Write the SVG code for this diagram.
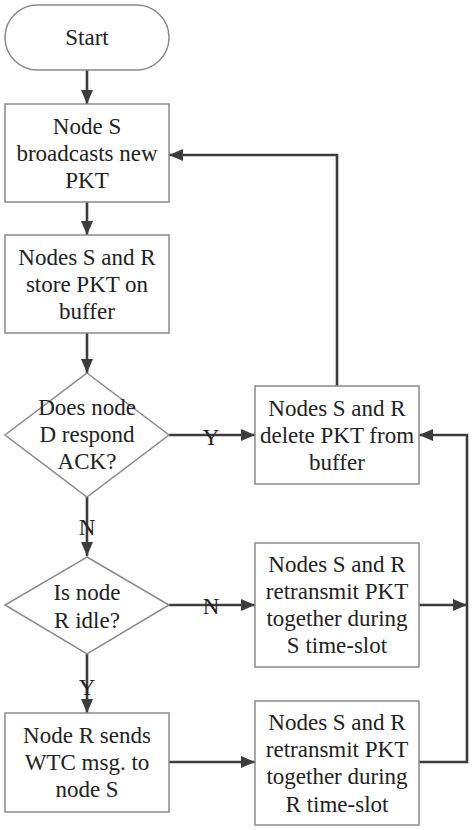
<svg xmlns="http://www.w3.org/2000/svg" width="474" height="830" viewBox="0 0 474 830">
<defs>
<marker id="ah" markerWidth="14" markerHeight="12" refX="14" refY="6" orient="auto" markerUnits="userSpaceOnUse">
<path d="M0,0 L14,6 L0,12 Z" fill="#3c3c3c"/>
</marker>
</defs>
<style>
.n{fill:#fff;stroke:#8a8a8a;stroke-width:1.5}
.t{font-size:23px;fill:#222;text-anchor:middle}
.c{fill:none;stroke:#3c3c3c;stroke-width:2.6}
</style>
<rect width="474" height="830" fill="#fff"/>
<g id="connectors" font-family="Liberation Serif, serif">
<path class="c" d="M87,70 V104" marker-end="url(#ah)"/>
<path class="c" d="M87,202 V235" marker-end="url(#ah)"/>
<path class="c" d="M87,333 V373" marker-end="url(#ah)"/>
<path class="c" d="M169,435 H255" marker-end="url(#ah)"/>
<path class="c" d="M337,386 V155 H169" marker-end="url(#ah)"/>
<path class="c" d="M87,497 V556" marker-end="url(#ah)"/>
<path class="c" d="M169,605 H255" marker-end="url(#ah)"/>
<path class="c" d="M419,605 H467" marker-end="url(#ah)"/>
<path class="c" d="M87,654 V713" marker-end="url(#ah)"/>
<path class="c" d="M169,762 H255" marker-end="url(#ah)"/>
<path class="c" d="M419,762 H467 V435 H419" marker-end="url(#ah)"/>
<text class="t" x="211" y="445" font-family="Liberation Serif, serif">Y</text>
<text class="t" x="87" y="535" font-family="Liberation Serif, serif">N</text>
<text class="t" x="211" y="614" font-family="Liberation Serif, serif">N</text>
<text class="t" x="87" y="695" font-family="Liberation Serif, serif">Y</text>
</g>
<g id="start">
<rect class="n" x="5" y="5" width="164" height="65" rx="32.5"/>
<text class="t" x="87" y="45" font-family="Liberation Serif, serif">Start</text>
</g>
<g id="broadcast">
<rect class="n" x="5" y="104" width="164" height="98"/>
<text class="t" x="87" y="134" font-family="Liberation Serif, serif">Node S</text>
<text class="t" x="87" y="161" font-family="Liberation Serif, serif">broadcasts new</text>
<text class="t" x="87" y="188" font-family="Liberation Serif, serif">PKT</text>
</g>
<g id="store">
<rect class="n" x="5" y="235" width="164" height="98"/>
<text class="t" x="87" y="265" font-family="Liberation Serif, serif">Nodes S and R</text>
<text class="t" x="87" y="292" font-family="Liberation Serif, serif">store PKT on</text>
<text class="t" x="87" y="319" font-family="Liberation Serif, serif">buffer</text>
</g>
<g id="ack">
<path class="n" d="M87,373 L169,435 L87,497 L5,435 Z"/>
<text class="t" x="87" y="415" font-family="Liberation Serif, serif">Does node</text>
<text class="t" x="87" y="442" font-family="Liberation Serif, serif">D respond</text>
<text class="t" x="87" y="469" font-family="Liberation Serif, serif">ACK?</text>
</g>
<g id="delete">
<rect class="n" x="255" y="386" width="164" height="98"/>
<text class="t" x="337" y="416" font-family="Liberation Serif, serif">Nodes S and R</text>
<text class="t" x="337" y="443" font-family="Liberation Serif, serif">delete PKT from</text>
<text class="t" x="337" y="470" font-family="Liberation Serif, serif">buffer</text>
</g>
<g id="idle">
<path class="n" d="M87,557 L169,605 L87,654 L5,605 Z"/>
<text class="t" x="87" y="600" font-family="Liberation Serif, serif">Is node</text>
<text class="t" x="87" y="628" font-family="Liberation Serif, serif">R idle?</text>
</g>
<g id="retransS">
<rect class="n" x="255" y="543" width="164" height="124"/>
<text class="t" x="337" y="572" font-family="Liberation Serif, serif">Nodes S and R</text>
<text class="t" x="337" y="599" font-family="Liberation Serif, serif">retransmit PKT</text>
<text class="t" x="337" y="626" font-family="Liberation Serif, serif">together during</text>
<text class="t" x="337" y="653" font-family="Liberation Serif, serif">S time-slot</text>
</g>
<g id="wtc">
<rect class="n" x="5" y="713" width="164" height="99"/>
<text class="t" x="87" y="743" font-family="Liberation Serif, serif">Node R sends</text>
<text class="t" x="87" y="770" font-family="Liberation Serif, serif">WTC msg.  to</text>
<text class="t" x="87" y="797" font-family="Liberation Serif, serif">node S</text>
</g>
<g id="retransR">
<rect class="n" x="255" y="701" width="164" height="124"/>
<text class="t" x="337" y="730" font-family="Liberation Serif, serif">Nodes S and R</text>
<text class="t" x="337" y="757" font-family="Liberation Serif, serif">retransmit PKT</text>
<text class="t" x="337" y="784" font-family="Liberation Serif, serif">together during</text>
<text class="t" x="337" y="812" font-family="Liberation Serif, serif">R time-slot</text>
</g>
</svg>
